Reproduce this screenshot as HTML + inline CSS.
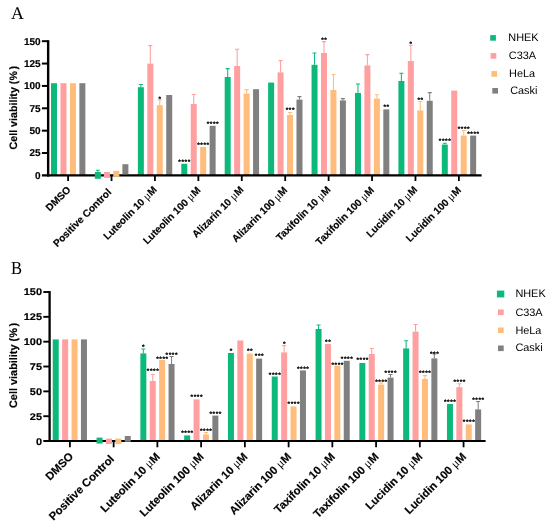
<!DOCTYPE html>
<html lang="en"><head><meta charset="utf-8"><title>Cell viability</title>
<style>
html,body{margin:0;padding:0;background:#fff;}
svg{display:block;}
text{text-rendering:geometricPrecision;font-family:"Liberation Sans",Arial,sans-serif;fill:#000;}
.yta,.ytb,.xla,.xlb,.yl{stroke:#000;stroke-width:0.18px;}
.mua,.mub{stroke:none;}
.yta{font-size:10px;font-weight:bold;text-anchor:end;}
.ytb{font-size:9.7px;font-weight:bold;text-anchor:end;}
.xla{font-size:10.1px;font-weight:bold;text-anchor:end;}
.xlb{font-size:11.3px;font-weight:bold;text-anchor:end;}
.mua{font-family:"Liberation Serif","DejaVu Serif",serif;font-weight:normal;font-size:11.4px;}
.mub{font-family:"Liberation Serif","DejaVu Serif",serif;font-weight:normal;font-size:12.2px;}
.yl{font-size:10.7px;font-weight:bold;}
.st{stroke:#000;stroke-width:0.22px;font-size:6.5px;font-weight:bold;text-anchor:middle;letter-spacing:0.6px;}
.pl{font-family:"Liberation Serif",serif;font-size:16.5px;}
.lg{font-size:10.9px;}
</style></head>
<body>
<svg width="550" height="525" viewBox="0 0 550 525">
<defs><filter id="soft" x="0" y="0" width="550" height="525" filterUnits="userSpaceOnUse"><feGaussianBlur stdDeviation="0.4"/></filter></defs>
<rect width="550" height="525" fill="#fff"/>
<g filter="url(#soft)">
<rect x="51.02" y="83.2" width="6" height="92.2" fill="#11b97a"/>
<rect x="60.47" y="83.2" width="6" height="92.2" fill="#ff9f9f"/>
<rect x="69.92" y="83.2" width="6" height="92.2" fill="#ffbc7a"/>
<rect x="79.37" y="83.2" width="6" height="92.2" fill="#808080"/>
<path d="M140.86 87.2V84.4M138.86 84.4H142.86" stroke="#11b97a" stroke-width="1.05" fill="none"/>
<rect x="137.86" y="87.2" width="6" height="88.2" fill="#11b97a"/>
<path d="M150.31 63.6V45.6M148.31 45.6H152.31" stroke="#ff9f9f" stroke-width="1.05" fill="none"/>
<rect x="147.31" y="63.6" width="6" height="111.8" fill="#ff9f9f"/>
<path d="M159.76 105.2V99.6M157.76 99.6H161.76" stroke="#ffbc7a" stroke-width="1.05" fill="none"/>
<rect x="156.76" y="105.2" width="6" height="70.2" fill="#ffbc7a"/>
<text class="st" x="160.06" y="100.55">*</text>
<rect x="166.22" y="95" width="6" height="80.4" fill="#808080"/>
<rect x="181.28" y="163.8" width="6" height="11.6" fill="#11b97a"/>
<text class="st" x="184.58" y="163.55">****</text>
<path d="M193.73 104V94.4M191.73 94.4H195.73" stroke="#ff9f9f" stroke-width="1.05" fill="none"/>
<rect x="190.73" y="104" width="6" height="71.4" fill="#ff9f9f"/>
<rect x="200.18" y="147" width="6" height="28.4" fill="#ffbc7a"/>
<text class="st" x="203.48" y="146.55">****</text>
<rect x="209.63" y="125.8" width="6" height="49.6" fill="#808080"/>
<text class="st" x="212.94" y="125.75">****</text>
<path d="M227.7 77V68.6M225.7 68.6H229.7" stroke="#11b97a" stroke-width="1.05" fill="none"/>
<rect x="224.7" y="77" width="6" height="98.4" fill="#11b97a"/>
<path d="M237.16 66V49.2M235.16 49.2H239.16" stroke="#ff9f9f" stroke-width="1.05" fill="none"/>
<rect x="234.16" y="66" width="6" height="109.4" fill="#ff9f9f"/>
<path d="M246.6 93.6V89.6M244.6 89.6H248.6" stroke="#ffbc7a" stroke-width="1.05" fill="none"/>
<rect x="243.6" y="93.6" width="6" height="81.8" fill="#ffbc7a"/>
<rect x="253.06" y="89.2" width="6" height="86.2" fill="#808080"/>
<rect x="268.12" y="82.6" width="6" height="92.8" fill="#11b97a"/>
<path d="M280.57 72.4V60.6M278.57 60.6H282.57" stroke="#ff9f9f" stroke-width="1.05" fill="none"/>
<rect x="277.57" y="72.4" width="6" height="103" fill="#ff9f9f"/>
<path d="M290.03 115V112.4M288.03 112.4H292.03" stroke="#ffbc7a" stroke-width="1.05" fill="none"/>
<rect x="287.03" y="115" width="6" height="60.4" fill="#ffbc7a"/>
<text class="st" x="290.33" y="112.35">***</text>
<path d="M299.48 99.6V96.6M297.48 96.6H301.48" stroke="#808080" stroke-width="1.05" fill="none"/>
<rect x="296.48" y="99.6" width="6" height="75.8" fill="#808080"/>
<path d="M314.54 64.8V53M312.54 53H316.54" stroke="#11b97a" stroke-width="1.05" fill="none"/>
<rect x="311.54" y="64.8" width="6" height="110.6" fill="#11b97a"/>
<path d="M323.99 53V41.6M321.99 41.6H325.99" stroke="#ff9f9f" stroke-width="1.05" fill="none"/>
<rect x="320.99" y="53" width="6" height="122.4" fill="#ff9f9f"/>
<text class="st" x="324.29" y="42.35">**</text>
<path d="M333.44 90V74.4M331.44 74.4H335.44" stroke="#ffbc7a" stroke-width="1.05" fill="none"/>
<rect x="330.44" y="90" width="6" height="85.4" fill="#ffbc7a"/>
<path d="M342.89 100.4V98.6M340.89 98.6H344.89" stroke="#808080" stroke-width="1.05" fill="none"/>
<rect x="339.89" y="100.4" width="6" height="75" fill="#808080"/>
<path d="M357.96 93V84M355.96 84H359.96" stroke="#11b97a" stroke-width="1.05" fill="none"/>
<rect x="354.96" y="93" width="6" height="82.4" fill="#11b97a"/>
<path d="M367.41 65.4V54.6M365.41 54.6H369.41" stroke="#ff9f9f" stroke-width="1.05" fill="none"/>
<rect x="364.41" y="65.4" width="6" height="110" fill="#ff9f9f"/>
<path d="M376.87 98.6V94.8M374.87 94.8H378.87" stroke="#ffbc7a" stroke-width="1.05" fill="none"/>
<rect x="373.87" y="98.6" width="6" height="76.8" fill="#ffbc7a"/>
<rect x="383.31" y="109.4" width="6" height="66" fill="#808080"/>
<text class="st" x="386.62" y="109.35">**</text>
<path d="M401.38 81V73.2M399.38 73.2H403.38" stroke="#11b97a" stroke-width="1.05" fill="none"/>
<rect x="398.38" y="81" width="6" height="94.4" fill="#11b97a"/>
<path d="M410.83 61V45.2M408.83 45.2H412.83" stroke="#ff9f9f" stroke-width="1.05" fill="none"/>
<rect x="407.83" y="61" width="6" height="114.4" fill="#ff9f9f"/>
<text class="st" x="411.13" y="45.75">*</text>
<path d="M420.29 110.4V101.4M418.29 101.4H422.29" stroke="#ffbc7a" stroke-width="1.05" fill="none"/>
<rect x="417.29" y="110.4" width="6" height="65" fill="#ffbc7a"/>
<text class="st" x="420.59" y="101.75">**</text>
<path d="M429.74 100.8V92.6M427.74 92.6H431.74" stroke="#808080" stroke-width="1.05" fill="none"/>
<rect x="426.74" y="100.8" width="6" height="74.6" fill="#808080"/>
<path d="M444.81 144.6V143.2M442.81 143.2H446.81" stroke="#11b97a" stroke-width="1.05" fill="none"/>
<rect x="441.81" y="144.6" width="6" height="30.8" fill="#11b97a"/>
<text class="st" x="445.11" y="142.95">****</text>
<rect x="451.25" y="90.6" width="6" height="84.8" fill="#ff9f9f"/>
<path d="M463.71 135.6V130.4M461.71 130.4H465.71" stroke="#ffbc7a" stroke-width="1.05" fill="none"/>
<rect x="460.71" y="135.6" width="6" height="39.8" fill="#ffbc7a"/>
<text class="st" x="464.01" y="130.95">****</text>
<rect x="470.16" y="135.6" width="6" height="39.8" fill="#808080"/>
<text class="st" x="473.46" y="135.75">****</text>
<path d="M48.15 40.19V176.6" stroke="#000" stroke-width="2.4" fill="none"/>
<path d="M41.9 175.4H481.6" stroke="#000" stroke-width="2.4" fill="none"/>
<text class="yta" transform="translate(40.6 178.75)">0</text>
<path d="M41.9 153.03H48.15" stroke="#000" stroke-width="2.0" fill="none"/>
<text class="yta" transform="translate(40.6 156.38)">25</text>
<path d="M41.9 130.67H48.15" stroke="#000" stroke-width="2.0" fill="none"/>
<text class="yta" transform="translate(40.6 134.02)">50</text>
<path d="M41.9 108.3H48.15" stroke="#000" stroke-width="2.0" fill="none"/>
<text class="yta" transform="translate(40.6 111.65)">75</text>
<path d="M41.9 85.93H48.15" stroke="#000" stroke-width="2.0" fill="none"/>
<text class="yta" transform="translate(40.6 89.28)">100</text>
<path d="M41.9 63.56H48.15" stroke="#000" stroke-width="2.0" fill="none"/>
<text class="yta" transform="translate(40.6 66.91)">125</text>
<path d="M41.9 41.19H48.15" stroke="#000" stroke-width="2.0" fill="none"/>
<text class="yta" transform="translate(40.6 44.54)">150</text>
<path d="M68.1 175.4V181" stroke="#000" stroke-width="1.8" fill="none"/>
<path d="M111.52 175.4V181" stroke="#000" stroke-width="1.8" fill="none"/>
<path d="M154.94 175.4V181" stroke="#000" stroke-width="1.8" fill="none"/>
<path d="M198.36 175.4V181" stroke="#000" stroke-width="1.8" fill="none"/>
<path d="M241.78 175.4V181" stroke="#000" stroke-width="1.8" fill="none"/>
<path d="M285.2 175.4V181" stroke="#000" stroke-width="1.8" fill="none"/>
<path d="M328.62 175.4V181" stroke="#000" stroke-width="1.8" fill="none"/>
<path d="M372.04 175.4V181" stroke="#000" stroke-width="1.8" fill="none"/>
<path d="M415.46 175.4V181" stroke="#000" stroke-width="1.8" fill="none"/>
<path d="M458.88 175.4V181" stroke="#000" stroke-width="1.8" fill="none"/>
<path d="M97.84 172V170.3M95.84 170.3H99.84" stroke="#11b97a" stroke-width="1.05" fill="none"/>
<rect x="94.84" y="172" width="6" height="6.8" fill="#11b97a"/>
<rect x="103.89" y="172" width="6" height="5.9" fill="#ff9f9f"/>
<rect x="113.34" y="170.8" width="6" height="6" fill="#ffbc7a"/>
<rect x="122.39" y="164.2" width="6" height="10" fill="#808080"/>
<text class="xla" transform="translate(71.2 190.36) rotate(-45)">DMSO</text>
<text class="xla" transform="translate(111.9 192.81) rotate(-45)">Positive Control</text>
<text class="xla" transform="translate(157.49 190.41) rotate(-45)">Luteolin 10 <tspan class="mua" dx="0">μ</tspan><tspan>M</tspan></text>
<text class="xla" transform="translate(201.11 190.91) rotate(-45)">Luteolin 100 <tspan class="mua" dx="0">μ</tspan><tspan>M</tspan></text>
<text class="xla" transform="translate(244.33 190.41) rotate(-45)">Alizarin 10 <tspan class="mua" dx="0">μ</tspan><tspan>M</tspan></text>
<text class="xla" transform="translate(287.95 190.91) rotate(-45)">Alizarin 100 <tspan class="mua" dx="0">μ</tspan><tspan>M</tspan></text>
<text class="xla" transform="translate(331.17 190.41) rotate(-45)">Taxifolin 10 <tspan class="mua" dx="0">μ</tspan><tspan>M</tspan></text>
<text class="xla" transform="translate(374.79 190.91) rotate(-45)">Taxifolin 100 <tspan class="mua" dx="0">μ</tspan><tspan>M</tspan></text>
<text class="xla" transform="translate(418.01 190.41) rotate(-45)">Lucidin 10 <tspan class="mua" dx="0">μ</tspan><tspan>M</tspan></text>
<text class="xla" transform="translate(461.63 190.91) rotate(-45)">Lucidin 100 <tspan class="mua" dx="0">μ</tspan><tspan>M</tspan></text>
<rect x="52.75" y="339.4" width="6" height="101.65" fill="#11b97a"/>
<rect x="62.15" y="339.4" width="6" height="101.65" fill="#ff9f9f"/>
<rect x="71.55" y="339.4" width="6" height="101.65" fill="#ffbc7a"/>
<rect x="80.95" y="339.4" width="6" height="101.65" fill="#808080"/>
<path d="M143.35 353.4V349M141.35 349H145.35" stroke="#11b97a" stroke-width="1.05" fill="none"/>
<rect x="140.35" y="353.4" width="6" height="87.65" fill="#11b97a"/>
<text class="st" x="143.65" y="349.15">*</text>
<path d="M152.75 381V374.4M150.75 374.4H154.75" stroke="#ff9f9f" stroke-width="1.05" fill="none"/>
<rect x="149.75" y="381" width="6" height="60.05" fill="#ff9f9f"/>
<text class="st" x="153.05" y="373.35">****</text>
<rect x="159.15" y="360" width="6" height="81.05" fill="#ffbc7a"/>
<text class="st" x="162.45" y="360.95">****</text>
<path d="M171.55 364V356.4M169.55 356.4H173.55" stroke="#808080" stroke-width="1.05" fill="none"/>
<rect x="168.55" y="364" width="6" height="77.05" fill="#808080"/>
<text class="st" x="171.85" y="357.05">****</text>
<rect x="184.15" y="435.4" width="6" height="5.65" fill="#11b97a"/>
<text class="st" x="187.45" y="434.95">****</text>
<rect x="193.55" y="399.4" width="6" height="41.65" fill="#ff9f9f"/>
<text class="st" x="196.85" y="399.35">****</text>
<path d="M205.95 434.4V432.4M203.95 432.4H207.95" stroke="#ffbc7a" stroke-width="1.05" fill="none"/>
<rect x="202.95" y="434.4" width="6" height="6.65" fill="#ffbc7a"/>
<text class="st" x="206.25" y="432.75">****</text>
<rect x="212.35" y="415.6" width="6" height="25.45" fill="#808080"/>
<text class="st" x="215.65" y="415.95">****</text>
<rect x="227.95" y="353" width="6" height="88.05" fill="#11b97a"/>
<text class="st" x="231.25" y="352.55">*</text>
<rect x="237.35" y="340.5" width="6" height="100.55" fill="#ff9f9f"/>
<rect x="246.75" y="353.6" width="6" height="87.45" fill="#ffbc7a"/>
<text class="st" x="250.05" y="353.35">**</text>
<rect x="256.15" y="358.6" width="6" height="82.45" fill="#808080"/>
<text class="st" x="259.45" y="358.35">***</text>
<rect x="271.75" y="376.5" width="6" height="64.55" fill="#11b97a"/>
<text class="st" x="275.05" y="376.55">****</text>
<path d="M284.15 352.4V345.6M282.15 345.6H286.15" stroke="#ff9f9f" stroke-width="1.05" fill="none"/>
<rect x="281.15" y="352.4" width="6" height="88.65" fill="#ff9f9f"/>
<text class="st" x="284.45" y="346.35">*</text>
<rect x="290.55" y="406.4" width="6" height="34.65" fill="#ffbc7a"/>
<text class="st" x="293.85" y="405.85">****</text>
<rect x="299.95" y="370.4" width="6" height="70.65" fill="#808080"/>
<text class="st" x="303.25" y="370.55">****</text>
<path d="M318.55 329V325M316.55 325H320.55" stroke="#11b97a" stroke-width="1.05" fill="none"/>
<rect x="315.55" y="329" width="6" height="112.05" fill="#11b97a"/>
<rect x="324.95" y="344" width="6" height="97.05" fill="#ff9f9f"/>
<text class="st" x="328.25" y="344.35">**</text>
<rect x="334.35" y="365.6" width="6" height="75.45" fill="#ffbc7a"/>
<text class="st" x="337.65" y="367.35">****</text>
<rect x="343.75" y="360.8" width="6" height="80.25" fill="#808080"/>
<text class="st" x="347.05" y="361.35">****</text>
<rect x="359.35" y="363" width="6" height="78.05" fill="#11b97a"/>
<text class="st" x="362.65" y="361.65">****</text>
<path d="M371.75 354V348.4M369.75 348.4H373.75" stroke="#ff9f9f" stroke-width="1.05" fill="none"/>
<rect x="368.75" y="354" width="6" height="87.05" fill="#ff9f9f"/>
<path d="M381.15 384.6V383M379.15 383H383.15" stroke="#ffbc7a" stroke-width="1.05" fill="none"/>
<rect x="378.15" y="384.6" width="6" height="56.45" fill="#ffbc7a"/>
<text class="st" x="381.45" y="383.75">****</text>
<path d="M390.55 377.6V374.4M388.55 374.4H392.55" stroke="#808080" stroke-width="1.05" fill="none"/>
<rect x="387.55" y="377.6" width="6" height="63.45" fill="#808080"/>
<text class="st" x="390.85" y="375.35">****</text>
<path d="M406.15 348.4V340.8M404.15 340.8H408.15" stroke="#11b97a" stroke-width="1.05" fill="none"/>
<rect x="403.15" y="348.4" width="6" height="92.65" fill="#11b97a"/>
<path d="M415.55 331.6V324.4M413.55 324.4H417.55" stroke="#ff9f9f" stroke-width="1.05" fill="none"/>
<rect x="412.55" y="331.6" width="6" height="109.45" fill="#ff9f9f"/>
<path d="M424.95 379V375.6M422.95 375.6H426.95" stroke="#ffbc7a" stroke-width="1.05" fill="none"/>
<rect x="421.95" y="379" width="6" height="62.05" fill="#ffbc7a"/>
<text class="st" x="425.25" y="375.35">****</text>
<path d="M434.35 358.4V354M432.35 354H436.35" stroke="#808080" stroke-width="1.05" fill="none"/>
<rect x="431.35" y="358.4" width="6" height="82.65" fill="#808080"/>
<text class="st" x="434.65" y="355.75">***</text>
<rect x="446.95" y="404" width="6" height="37.05" fill="#11b97a"/>
<text class="st" x="450.25" y="404.35">****</text>
<path d="M459.35 387.2V383.8M457.35 383.8H461.35" stroke="#ff9f9f" stroke-width="1.05" fill="none"/>
<rect x="456.35" y="387.2" width="6" height="53.85" fill="#ff9f9f"/>
<text class="st" x="459.65" y="384.35">****</text>
<rect x="465.75" y="424.4" width="6" height="16.65" fill="#ffbc7a"/>
<text class="st" x="469.05" y="423.55">****</text>
<path d="M478.15 409.4V401.4M476.15 401.4H480.15" stroke="#808080" stroke-width="1.05" fill="none"/>
<rect x="475.15" y="409.4" width="6" height="31.65" fill="#808080"/>
<text class="st" x="478.45" y="401.55">****</text>
<path d="M49.6 291.05V441.95" stroke="#000" stroke-width="2.3" fill="none"/>
<path d="M43.3 441H485.6" stroke="#000" stroke-width="1.9" fill="none"/>
<text class="ytb" transform="translate(42 444.5) scale(1.125 1)">0</text>
<path d="M43.3 416.21H49.6" stroke="#000" stroke-width="1.9" fill="none"/>
<text class="ytb" transform="translate(42 419.66) scale(1.125 1)">25</text>
<path d="M43.3 391.37H49.6" stroke="#000" stroke-width="1.9" fill="none"/>
<text class="ytb" transform="translate(42 394.81) scale(1.125 1)">50</text>
<path d="M43.3 366.52H49.6" stroke="#000" stroke-width="1.9" fill="none"/>
<text class="ytb" transform="translate(42 369.97) scale(1.125 1)">75</text>
<path d="M43.3 341.68H49.6" stroke="#000" stroke-width="1.9" fill="none"/>
<text class="ytb" transform="translate(42 345.13) scale(1.125 1)">100</text>
<path d="M43.3 316.84H49.6" stroke="#000" stroke-width="1.9" fill="none"/>
<text class="ytb" transform="translate(42 320.29) scale(1.125 1)">125</text>
<path d="M43.3 292H49.6" stroke="#000" stroke-width="1.9" fill="none"/>
<text class="ytb" transform="translate(42 295.44) scale(1.125 1)">150</text>
<path d="M69.9 441V447.3" stroke="#000" stroke-width="1.8" fill="none"/>
<path d="M113.64 441V447.3" stroke="#000" stroke-width="1.8" fill="none"/>
<path d="M157.38 441V447.3" stroke="#000" stroke-width="1.8" fill="none"/>
<path d="M201.12 441V447.3" stroke="#000" stroke-width="1.8" fill="none"/>
<path d="M244.86 441V447.3" stroke="#000" stroke-width="1.8" fill="none"/>
<path d="M288.6 441V447.3" stroke="#000" stroke-width="1.8" fill="none"/>
<path d="M332.34 441V447.3" stroke="#000" stroke-width="1.8" fill="none"/>
<path d="M376.08 441V447.3" stroke="#000" stroke-width="1.8" fill="none"/>
<path d="M419.82 441V447.3" stroke="#000" stroke-width="1.8" fill="none"/>
<path d="M463.56 441V447.3" stroke="#000" stroke-width="1.8" fill="none"/>
<rect x="96.55" y="437.6" width="6" height="6" fill="#11b97a"/>
<rect x="105.95" y="438.6" width="6" height="5.4" fill="#ff9f9f"/>
<rect x="115.35" y="438.6" width="6" height="5.4" fill="#ffbc7a"/>
<rect x="124.75" y="436" width="6" height="5.8" fill="#808080"/>
<text class="xlb" transform="translate(74.06 457.04) rotate(-45)">DMSO</text>
<text class="xlb" transform="translate(114.76 459.74) rotate(-45)">Positive Control</text>
<text class="xlb" transform="translate(160.64 457.24) rotate(-45)">Luteolin 10 <tspan class="mub" dx="0">μ</tspan><tspan>M</tspan></text>
<text class="xlb" transform="translate(204.38 457.24) rotate(-45)">Luteolin 100 <tspan class="mub" dx="0">μ</tspan><tspan>M</tspan></text>
<text class="xlb" transform="translate(248.12 457.24) rotate(-45)">Alizarin 10 <tspan class="mub" dx="0">μ</tspan><tspan>M</tspan></text>
<text class="xlb" transform="translate(291.86 457.24) rotate(-45)">Alizarin 100 <tspan class="mub" dx="0">μ</tspan><tspan>M</tspan></text>
<text class="xlb" transform="translate(335.6 457.24) rotate(-45)">Taxifolin 10 <tspan class="mub" dx="0">μ</tspan><tspan>M</tspan></text>
<text class="xlb" transform="translate(379.34 457.24) rotate(-45)">Taxifolin 100 <tspan class="mub" dx="0">μ</tspan><tspan>M</tspan></text>
<text class="xlb" transform="translate(423.08 457.24) rotate(-45)">Lucidin 10 <tspan class="mub" dx="0">μ</tspan><tspan>M</tspan></text>
<text class="xlb" transform="translate(466.82 457.24) rotate(-45)">Lucidin 100 <tspan class="mub" dx="0">μ</tspan><tspan>M</tspan></text>
<text class="yl" transform="translate(16.8 149.5) rotate(-90)">Cell viability (%<tspan dx="1.5">)</tspan></text>
<text class="yl" style="font-size:10.9px" transform="translate(16.7 408.0) rotate(-90)">Cell viability (%<tspan dx="1.5">)</tspan></text>
<text class="pl" style="font-size:17.9px" transform="translate(11.1 19)">A</text>
<text class="pl" style="font-size:18.4px" transform="translate(10.9 274.1) scale(0.9 1)">B</text>
<rect x="490.2" y="35.1" width="5.7" height="5.6" fill="#11b97a"/>
<text class="lg" x="508.3" y="41.3">NHEK</text>
<rect x="490.6" y="53.1" width="5.7" height="5.6" fill="#ff9f9f"/>
<text class="lg" x="508.8" y="59.0">C33A</text>
<rect x="491.4" y="71.1" width="5.7" height="5.6" fill="#ffbc7a"/>
<text class="lg" x="509.1" y="76.7">HeLa</text>
<rect x="492.3" y="88.0" width="5.7" height="5.6" fill="#808080"/>
<text class="lg" x="510.2" y="93.7">Caski</text>
<rect x="496.9" y="290.6" width="7.4" height="6.8" fill="#11b97a"/>
<text class="lg" x="515.4" y="297.2">NHEK</text>
<rect x="498" y="309.5" width="5.7" height="5.6" fill="#ff9f9f"/>
<text class="lg" x="515.4" y="315.7">C33A</text>
<rect x="498" y="327.5" width="5.7" height="5.6" fill="#ffbc7a"/>
<text class="lg" x="515.4" y="333.6">HeLa</text>
<rect x="498" y="345.5" width="5.7" height="5.6" fill="#808080"/>
<text class="lg" x="515.4" y="351.3">Caski</text>
</g>
</svg>
</body></html>
